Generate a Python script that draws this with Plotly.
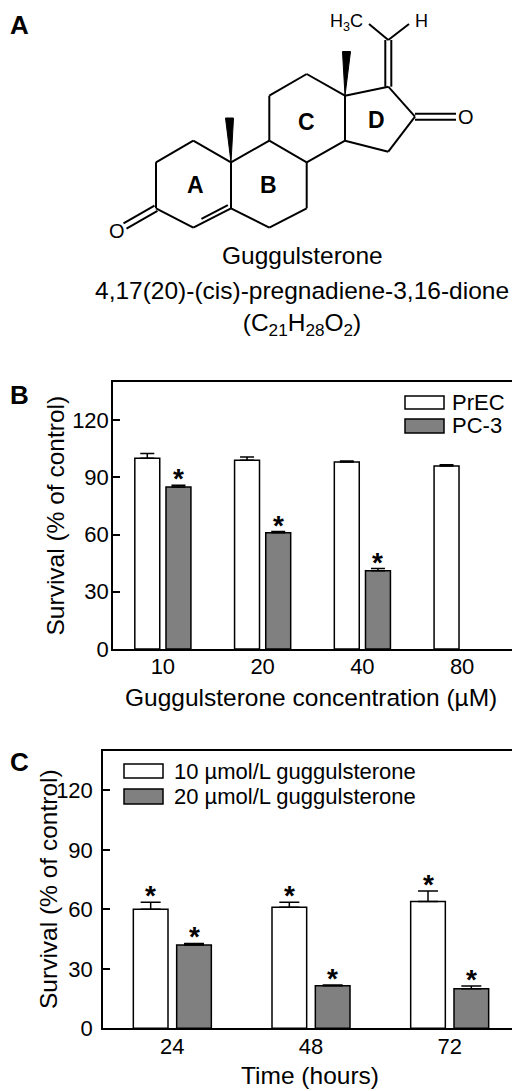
import plotly.graph_objects as go

W, H = 520, 1091
OFFSET = 8  # the page body margin shifts the figure by this many pixels
FONT = "Liberation Sans, Arial, sans-serif"

# panel B: survival vs guggulsterone concentration
conc_labels = ["10", "20", "40", "80"]
prec_mean = [100, 99, 98, 96]
prec_err = [2.5, 1.7, 0.6, 0.6]
pc3_mean = [85, 61, 41, None]
pc3_err = [0.8, 0.6, 1.2, None]
pc3_star = [True, True, True, False]

# panel C: survival vs time
time_labels = ["24", "48", "72"]
g10_mean = [60, 61, 64]
g10_err = [3.6, 2.6, 5.2]
g20_mean = [42, 21.5, 20]
g20_err = [0.8, 0.3, 1.3]

WHITE = "#ffffff"
GREY = "#808080"
BARGAP = 0.375
HALF_SLOT = (1 - BARGAP) / 4


def px(x):
    return (x - OFFSET) / W


def py(y):
    return 1 - (y - OFFSET) / H


fig = go.Figure()

# --- panel B bars ---
fig.add_trace(go.Bar(
    x=conc_labels, y=prec_mean, name="PrEC", xaxis="x", yaxis="y",
    marker=dict(color=WHITE, line=dict(color="black", width=1.5)),
    error_y=dict(type="data", array=prec_err, arrayminus=[0] * 4,
                 symmetric=False, color="black", thickness=1.5, width=7),
    showlegend=False,
))
fig.add_trace(go.Bar(
    x=conc_labels, y=pc3_mean, name="PC-3", xaxis="x", yaxis="y",
    marker=dict(color=GREY, line=dict(color="black", width=1.5)),
    error_y=dict(type="data", array=pc3_err, arrayminus=[0] * 4,
                 symmetric=False, color="black", thickness=1.5, width=7),
    showlegend=False,
))

# --- panel C bars ---
fig.add_trace(go.Bar(
    x=time_labels, y=g10_mean, name="10 µmol/L guggulsterone", xaxis="x2", yaxis="y2",
    marker=dict(color=WHITE, line=dict(color="black", width=1.5)),
    error_y=dict(type="data", array=g10_err, arrayminus=[0] * 3,
                 symmetric=False, color="black", thickness=1.5, width=10),
    showlegend=False,
))
fig.add_trace(go.Bar(
    x=time_labels, y=g20_mean, name="20 µmol/L guggulsterone", xaxis="x2", yaxis="y2",
    marker=dict(color=GREY, line=dict(color="black", width=1.5)),
    error_y=dict(type="data", array=g20_err, arrayminus=[0] * 3,
                 symmetric=False, color="black", thickness=1.5, width=10),
    showlegend=False,
))

# --- panel A: structure drawing (pixel coordinates on a hidden axis) ---
atoms = {
    "a1": (156, 162.3), "a2": (193.3, 140.7), "C10": (231, 162.3),
    "C5": (231, 208.3), "C4": (193.3, 227.7), "C3": (156, 208.3),
    "C9": (269.3, 140.7), "C8": (306.7, 162.3), "C7": (306.7, 208.3),
    "C6": (269.3, 227.7), "C11": (269.3, 95.7), "C12": (306.7, 74),
    "C13": (345, 95.7), "C14": (345, 140.7), "C17": (388.3, 86.7),
    "C16": (415, 116.7), "C15": (388.3, 151.7), "C20": (388.3, 40),
    "Me": (369, 24), "H": (409, 24), "O3": (125, 226), "O16": (456, 116.7),
}
single = [("a1", "a2"), ("a2", "C10"), ("C10", "C5"), ("C5", "C4"), ("C4", "C3"),
          ("C3", "a1"), ("C10", "C9"), ("C9", "C8"), ("C8", "C7"), ("C7", "C6"),
          ("C6", "C5"), ("C9", "C11"), ("C11", "C12"), ("C12", "C13"),
          ("C13", "C14"), ("C14", "C8"), ("C13", "C17"), ("C17", "C16"),
          ("C16", "C15"), ("C15", "C14"), ("C20", "Me"), ("C20", "H")]
double = [("C3", "O3"), ("C16", "O16"), ("C17", "C20")]

lx, ly = [], []
for a, b in single:
    (x0, y0), (x1, y1) = atoms[a], atoms[b]
    lx += [x0, x1, None]
    ly += [y0, y1, None]
for a, b in double:
    (x0, y0), (x1, y1) = atoms[a], atoms[b]
    L = ((x1 - x0) ** 2 + (y1 - y0) ** 2) ** 0.5
    nx, ny = -(y1 - y0) / L * 3, (x1 - x0) / L * 3
    for s in (1, -1):
        lx += [x0 + s * nx, x1 + s * nx, None]
        ly += [y0 + s * ny, y1 + s * ny, None]
# inner line of the C4=C5 bond
(x0, y0), (x1, y1) = atoms["C4"], atoms["C5"]
lx += [x0 + 0.15 * (x1 - x0) + 2.5, x0 + 0.85 * (x1 - x0) + 2.5, None]
ly += [y0 + 0.15 * (y1 - y0) - 6, y0 + 0.85 * (y1 - y0) - 6, None]

fig.add_trace(go.Scatter(x=lx, y=ly, mode="lines", xaxis="x3", yaxis="y3",
                         line=dict(color="black", width=2), showlegend=False,
                         hoverinfo="skip"))
for base, tip in [("C10", (229.5, 118)), ("C13", (346.5, 51.5))]:
    bx, by = atoms[base]
    fig.add_trace(go.Scatter(
        x=[bx, tip[0] - 4, tip[0] + 4, bx], y=[by, tip[1], tip[1], by],
        mode="lines", fill="toself", fillcolor="black", xaxis="x3", yaxis="y3",
        line=dict(color="black", width=1), showlegend=False, hoverinfo="skip"))

ann = []


def txt(x, y, text, size, ref=("x3", "y3"), bold=False, xanchor="center",
        yanchor="middle", **kw):
    ann.append(dict(x=x, y=y, xref=ref[0], yref=ref[1],
                    text=f"<b>{text}</b>" if bold else text,
                    xanchor=xanchor, yanchor=yanchor, showarrow=False,
                    font=dict(size=size, color="black", family=FONT), **kw))


for t, x, y in [("A", 195, 185), ("B", 268.3, 185), ("C", 306.7, 121.7), ("D", 376.7, 120)]:
    txt(x, y, t, 23, bold=True)
txt(117, 231, "O", 20)
txt(466, 117, "O", 20)
txt(346, 9, "H<sub>3</sub>C", 18, yanchor="top")
txt(421.7, 9, "H", 18, yanchor="top")
txt(302, 255, "Guggulsterone", 24.5)
txt(302, 308, "4,17(20)-(cis)-pregnadiene-3,16-dione<br>"
              "(C<sub>21</sub>H<sub>28</sub>O<sub>2</sub>)", 24.5)

# panel letters and axis titles (paper coordinates)
P = ("paper", "paper")
txt(px(OFFSET), py(OFFSET), "A", 26, ref=P, bold=True, xanchor="left", yanchor="top")
txt(px(OFFSET), py(395), "B", 26, ref=P, bold=True, xanchor="left")
txt(px(OFFSET), py(762), "C", 26, ref=P, bold=True, xanchor="left")
txt(px(55), py(515.5), "Survival (% of control)", 24.5, ref=P, textangle=-90)
txt(px(48), py(889), "Survival (% of control)", 24.5, ref=P, textangle=-90)
txt(px(311), py(697), "Guggulsterone concentration (µM)", 24.5, ref=P)
txt(px(310), py(1075), "Time (hours)", 24.5, ref=P)

# significance stars
for i, (m, e, s) in enumerate(zip(pc3_mean, pc3_err, pc3_star)):
    if s:
        txt(i + HALF_SLOT, m + e, "*", 28, ref=("x", "y"), bold=True, yanchor="bottom", yshift=-11)
for i, (m, e) in enumerate(zip(g10_mean, g10_err)):
    txt(i - HALF_SLOT, m + e, "*", 28, ref=("x2", "y2"), bold=True, yanchor="bottom", yshift=-11)
for i, (m, e) in enumerate(zip(g20_mean, g20_err)):
    txt(i + HALF_SLOT, m + e, "*", 28, ref=("x2", "y2"), bold=True, yanchor="bottom", yshift=-11)

# hand-drawn legends
shapes = []
legends = [
    ((405, 444), [(396, 409), (419, 433)], 450, ["PrEC", "PC-3"]),
    ((124, 163), [(764, 778), (789, 804)], 172,
     ["10 µmol/L guggulsterone", "20 µmol/L guggulsterone"]),
]
for (x0, x1), rows, tx, labels in legends:
    for (y0, y1), color, lab in zip(rows, [WHITE, GREY], labels):
        shapes.append(dict(type="rect", xref="paper", yref="paper",
                           x0=px(x0), x1=px(x1), y0=py(y1), y1=py(y0),
                           fillcolor=color, line=dict(color="black", width=1.5)))
        txt(px(tx), py((y0 + y1) / 2), lab, 22, ref=P, xanchor="left")

yax = dict(range=[0, 140], tickvals=[0, 30, 60, 90, 120], ticks="inside", ticklen=7,
           tickwidth=1.5, tickcolor="black", showline=True, linecolor="black", linewidth=1.5,
           mirror=True, showgrid=False, zeroline=False, automargin=False,
           tickfont=dict(size=22, color="black", family=FONT))
xax = dict(type="category", ticks="", showline=True, linecolor="black", linewidth=1.5,
           mirror=True, showgrid=False, automargin=False,
           tickfont=dict(size=22, color="black", family=FONT))

fig.update_layout(
    width=W, height=H, margin=dict(l=0, r=0, t=0, b=0, pad=0),
    paper_bgcolor="white", plot_bgcolor="white",
    barmode="group", bargap=BARGAP, bargroupgap=0.2,
    font=dict(family=FONT, color="black"),
    xaxis=dict(xax, domain=[px(113), px(512)], range=[-0.5, 3.5], anchor="y",
               ticklabelstandoff=-3),
    yaxis=dict(yax, domain=[py(649), py(382)], anchor="x", ticklabelstandoff=-2),
    xaxis2=dict(xax, domain=[px(103), px(519)], range=[-0.5, 2.5], anchor="y2",
                ticklabelstandoff=-2),
    yaxis2=dict(yax, domain=[py(1028.3), py(750.7)], anchor="x2", ticklabelstandoff=4),
    xaxis3=dict(domain=[0, 1], range=[OFFSET, OFFSET + W], visible=False, anchor="y3",
                automargin=False),
    yaxis3=dict(domain=[py(340), 1], range=[340, OFFSET], visible=False, anchor="x3",
                automargin=False),
    annotations=ann, shapes=shapes,
)

fig.write_html("out.html")
